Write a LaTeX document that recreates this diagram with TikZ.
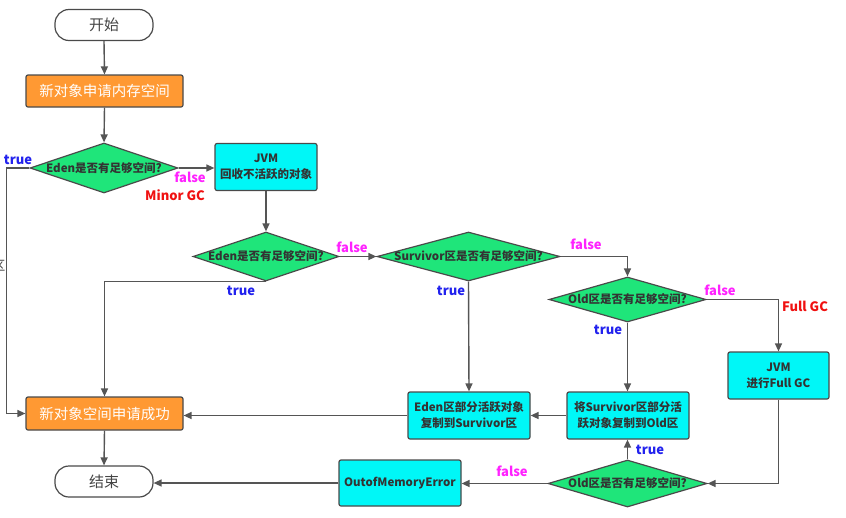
\documentclass[tikz,border=0pt]{standalone}
\usepackage{fontspec}
\setmainfont{Noto Sans CJK SC}
\usetikzlibrary{shapes.geometric,arrows.meta}
\definecolor{lineC}{HTML}{555555}
\definecolor{borderC}{HTML}{4A4A4A}
\definecolor{orangeC}{HTML}{FF9933}
\definecolor{cyanC}{HTML}{00F7F7}
\definecolor{greenC}{HTML}{1FE57A}
\definecolor{darkT}{HTML}{333333}
\definecolor{termT}{HTML}{444444}
\definecolor{blueC}{HTML}{2222EE}
\definecolor{magC}{HTML}{FF22FF}
\definecolor{redC}{HTML}{F01010}
\tikzset{
 line/.style={draw=lineC, line width=1.4pt},
 arr/.style={line, -{Triangle[length=8pt,width=7pt]}},
 term/.style={draw=borderC, line width=1.2pt, rounded corners=14pt, minimum width=98pt, minimum height=31pt, font=\fontsize{15}{15}\selectfont, text=termT, fill=white, inner sep=0},
 obox/.style={draw=borderC, fill=orangeC, rounded corners=2pt, line width=1.2pt, minimum width=157pt, minimum height=32pt, text=white, font=\fontsize{14.5}{15}\selectfont, inner sep=0},
 cbox/.style={draw=borderC, fill=cyanC, rounded corners=2pt, line width=1.2pt, minimum height=47pt, align=center, font=\bfseries\fontsize{11.5}{16}\selectfont, text=darkT, inner sep=0},
 dia/.style={diamond, draw=borderC, fill=greenC, line width=1.2pt, inner sep=0},
 dtext/.style={font=\bfseries\fontsize{11.5}{12}\selectfont, text=darkT, inner sep=0},
 lab/.style={font=\bfseries\fontsize{13}{13}\selectfont, inner sep=0},
 tl/.style={lab, text=blueC},
 fl/.style={lab, text=magC},
 gl/.style={lab, text=redC},
}
\begin{document}
\begin{tikzpicture}[x=1pt,y=-1pt]
\path[fill=white,use as bounding box] (0,0) rectangle (846,517);
\node[font=\fontsize{13}{13}\selectfont, text=termT, inner sep=0] (cut) at (-1,266) {区};
% nodes
\node[term] (start) at (104,25) {开始};
\node[obox] (o1) at (104.5,91) {新对象申请内存空间};
\node[dia, minimum width=148pt, minimum height=50pt] (d1) at (104,168) {};
\node[dtext] (d1t) at (d1) {Eden是否有足够空间?};
\node[cbox, minimum width=102pt] (j1) at (266,167) {JVM\\回收不活跃的对象};
\node[dia, minimum width=146pt, minimum height=49pt] (d2) at (266,256.5) {};
\node[dtext] (d2t) at (d2) {Eden是否有足够空间?};
\node[dia, minimum width=183pt, minimum height=49pt] (d3) at (468.5,256.5) {};
\node[dtext] (d3t) at (d3) {Survivor区是否有足够空间?};
\node[dia, minimum width=157pt, minimum height=45pt] (d4) at (627.5,299.5) {};
\node[dtext] (d4t) at (d4) {Old区是否有足够空间?};
\node[cbox, minimum width=101pt] (j2) at (778.5,375.5) {JVM\\进行Full GC};
\node[cbox, minimum width=122pt] (cp) at (628,415.5) {将Survivor区部分活\\跃对象复制到Old区};
\node[cbox, minimum width=122pt] (eb) at (469,415.5) {Eden区部分活跃对象\\复制到Survivor区};
\node[obox, minimum height=33pt] (o2) at (104.5,413.5) {新对象空间申请成功};
\node[dia, minimum width=159pt, minimum height=47pt] (d5) at (627.5,483.5) {};
\node[dtext] (d5t) at (d5) {Old区是否有足够空间?};
\node[cbox, minimum width=122pt, minimum height=46pt, font=\bfseries\fontsize{11.5}{14}\selectfont] (oom) at (400,483) {OutofMemoryError};
\node[term] (end) at (104,481.5) {结束};
% connectors
\draw[arr] (start.south) -- (o1.north);
\draw[arr] (o1.south) -- (d1.north);
\draw[arr] (d1.west) -- ++(-23,0) |- (o2.west);
\draw[arr] (d1.east) -- (d1.east -| j1.west);
\draw[arr] (j1.south) -- (d2.north);
\draw[arr] (d2.south) -| (o2.north);
\draw[arr] (d2.east) -- (d3.west);
\draw[arr] (d3.south) -- (eb.north);
\draw[arr] (d3.east) -| (d4.north);
\draw[arr] (d4.east) -| (j2.north);
\draw[arr] (d4.south) -- (d4.south |- cp.north);
\draw[arr] (j2.south) |- (d5.east);
\draw[arr] (d5.north) -- (d5.north |- cp.south);
\draw[arr] (d5.west) -- (d5.west -| oom.east);
\draw[arr] (oom.west) -- (oom.west -| end.east);
\draw[arr] (cp.west) -- (eb.east);
\draw[arr] (eb.west) -- (eb.west -| o2.east);
\draw[arr] (o2.south) -- (end.north);
% labels
\node[tl] (t1) at (18,160) {true};
\node[fl] (f1) at (190,177) {false};
\node[gl] (g1) at (175,195) {Minor GC};
\node[tl] (t2) at (241,291) {true};
\node[fl] (f2) at (352,247) {false};
\node[tl] (t3) at (451,291) {true};
\node[fl] (f3) at (586,244) {false};
\node[fl] (f4) at (720,290) {false};
\node[gl] (g2) at (805,306) {Full GC};
\node[tl] (t4) at (608,330) {true};
\node[tl] (t5) at (650,450) {true};
\node[fl] (f5) at (512,471) {false};
\end{tikzpicture}
\end{document}
